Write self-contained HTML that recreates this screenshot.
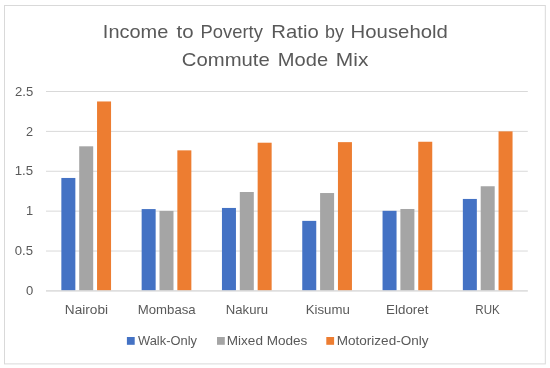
<!DOCTYPE html>
<html><head><meta charset="utf-8"><title>Income to Poverty Ratio by Household Commute Mode Mix</title>
<style>
html,body{margin:0;padding:0;background:#fff;}
body{width:550px;height:368px;overflow:hidden;}
svg{display:block;}
text{font-family:"Liberation Sans",sans-serif;fill:#595959;}
</style></head><body>
<svg width="550" height="368" viewBox="0 0 550 368">
<rect x="0" y="0" width="550" height="368" fill="#fff"/>
<rect x="4.5" y="5.5" width="540.8" height="358.4" fill="#fff" stroke="#D9D9D9" stroke-width="1"/>
<line x1="46.0" x2="527.80" y1="290.90" y2="290.90" stroke="#D9D9D9" stroke-width="1"/>
<line x1="46.0" x2="527.80" y1="251.02" y2="251.02" stroke="#D9D9D9" stroke-width="1"/>
<line x1="46.0" x2="527.80" y1="211.14" y2="211.14" stroke="#D9D9D9" stroke-width="1"/>
<line x1="46.0" x2="527.80" y1="171.26" y2="171.26" stroke="#D9D9D9" stroke-width="1"/>
<line x1="46.0" x2="527.80" y1="131.38" y2="131.38" stroke="#D9D9D9" stroke-width="1"/>
<line x1="46.0" x2="527.80" y1="91.50" y2="91.50" stroke="#D9D9D9" stroke-width="1"/>
<rect x="61.35" y="177.96" width="14.0" height="112.44" fill="#4472C4"/>
<rect x="79.20" y="146.30" width="14.0" height="144.10" fill="#A5A5A5"/>
<rect x="97.05" y="101.47" width="14.0" height="188.93" fill="#ED7D31"/>
<rect x="141.65" y="209.07" width="14.0" height="81.33" fill="#4472C4"/>
<rect x="159.50" y="210.90" width="14.0" height="79.50" fill="#A5A5A5"/>
<rect x="177.35" y="150.36" width="14.0" height="140.04" fill="#ED7D31"/>
<rect x="221.95" y="207.95" width="14.0" height="82.45" fill="#4472C4"/>
<rect x="239.80" y="192.00" width="14.0" height="98.40" fill="#A5A5A5"/>
<rect x="257.65" y="142.71" width="14.0" height="147.69" fill="#ED7D31"/>
<rect x="302.25" y="220.87" width="14.0" height="69.53" fill="#4472C4"/>
<rect x="320.10" y="193.03" width="14.0" height="97.37" fill="#A5A5A5"/>
<rect x="337.95" y="142.15" width="14.0" height="148.25" fill="#ED7D31"/>
<rect x="382.55" y="210.82" width="14.0" height="79.58" fill="#4472C4"/>
<rect x="400.40" y="208.99" width="14.0" height="81.41" fill="#A5A5A5"/>
<rect x="418.25" y="141.75" width="14.0" height="148.65" fill="#ED7D31"/>
<rect x="462.85" y="198.94" width="14.0" height="91.46" fill="#4472C4"/>
<rect x="480.70" y="186.25" width="14.0" height="104.15" fill="#A5A5A5"/>
<rect x="498.55" y="131.38" width="14.0" height="159.02" fill="#ED7D31"/>
<line x1="46.0" x2="527.80" y1="290.90" y2="290.90" stroke="#D9D9D9" stroke-width="1"/>
<text y="38.40" font-size="19"><tspan id="t1a" x="102.89" textLength="65.42" lengthAdjust="spacingAndGlyphs">Income</tspan> <tspan id="t1b" x="176.55" textLength="17.04" lengthAdjust="spacingAndGlyphs">to</tspan> <tspan id="t1c" x="200.55" textLength="62.37" lengthAdjust="spacingAndGlyphs">Poverty</tspan> <tspan id="t1d" x="271.39" textLength="47.29" lengthAdjust="spacingAndGlyphs">Ratio</tspan> <tspan id="t1e" x="325.12" textLength="18.91" lengthAdjust="spacingAndGlyphs">by</tspan> <tspan id="t1f" x="350.58" textLength="97.29" lengthAdjust="spacingAndGlyphs">Household</tspan></text>
<text y="65.80" font-size="19"><tspan id="t2a" x="181.86" textLength="87.91" lengthAdjust="spacingAndGlyphs">Commute</tspan> <tspan id="t2b" x="277.83" textLength="50.25" lengthAdjust="spacingAndGlyphs">Mode</tspan> <tspan id="t2c" x="335.89" textLength="32.52" lengthAdjust="spacingAndGlyphs">Mix</tspan></text>
<text id="x0" x="64.85" y="313.60" font-size="13" textLength="43.18" lengthAdjust="spacingAndGlyphs">Nairobi</text>
<text id="x1" x="137.77" y="313.60" font-size="13" textLength="57.86" lengthAdjust="spacingAndGlyphs">Mombasa</text>
<text id="x2" x="225.77" y="313.60" font-size="13" textLength="42.36" lengthAdjust="spacingAndGlyphs">Nakuru</text>
<text id="x3" x="305.67" y="313.60" font-size="13" textLength="44.13" lengthAdjust="spacingAndGlyphs">Kisumu</text>
<text id="x4" x="386.12" y="313.60" font-size="13" textLength="42.32" lengthAdjust="spacingAndGlyphs">Eldoret</text>
<text id="x5" x="475.36" y="313.60" font-size="13" textLength="24.50" lengthAdjust="spacingAndGlyphs">RUK</text>
<text id="l0" x="138.01" y="345.30" font-size="13" textLength="58.97" lengthAdjust="spacingAndGlyphs">Walk-Only</text>
<text id="l1" x="226.75" y="345.30" font-size="13" textLength="80.64" lengthAdjust="spacingAndGlyphs">Mixed Modes</text>
<text id="l2" x="336.76" y="345.30" font-size="13" textLength="91.74" lengthAdjust="spacingAndGlyphs">Motorized-Only</text>
<text id="y0" x="25.92" y="295.10" font-size="12.7" textLength="7.25" lengthAdjust="spacingAndGlyphs">0</text>
<text id="y1" x="14.78" y="255.22" font-size="12.7" textLength="18.26" lengthAdjust="spacingAndGlyphs">0.5</text>
<text id="y2" x="26.00" y="215.34" font-size="12.7" textLength="7.12" lengthAdjust="spacingAndGlyphs">1</text>
<text id="y3" x="14.68" y="175.46" font-size="12.7" textLength="18.42" lengthAdjust="spacingAndGlyphs">1.5</text>
<text id="y4" x="25.90" y="135.58" font-size="12.7" textLength="7.07" lengthAdjust="spacingAndGlyphs">2</text>
<text id="y5" x="15.06" y="95.70" font-size="12.7" textLength="18.19" lengthAdjust="spacingAndGlyphs">2.5</text>
<rect x="126.9" y="337" width="7.8" height="7.8" fill="#4472C4"/>
<rect x="217" y="337" width="7.8" height="7.8" fill="#A5A5A5"/>
<rect x="326.3" y="337" width="7.8" height="7.8" fill="#ED7D31"/>
</svg>
</body></html>
